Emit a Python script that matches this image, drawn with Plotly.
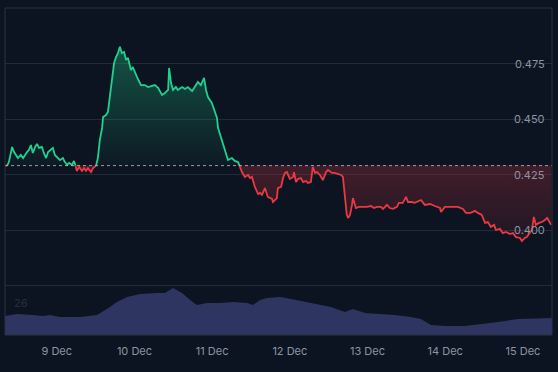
import pandas as pd
import plotly.graph_objects as go

START = pd.Timestamp("2024-12-08 08:00")
BASE = 0.4290

price_hours = [0, 0.6, 1.2, 2.2, 2.8, 3.4, 4.0, 4.9, 5.6, 6.8, 7.4, 8.0, 8.6, 9.3, 9.9, 10.5, 11.4, 12.0, 12.7, 13.3,
               14.2, 14.8, 15.4, 16.1, 17.0, 17.9, 18.5, 19.2, 19.8, 20.7, 21.3, 21.9, 22.2, 22.9, 23.8, 24.4, 25.0, 25.6, 26.6, 27.2,
               28.1, 28.7, 29.3, 30.0, 30.3, 31.2, 31.8, 32.4, 33.1, 33.7, 34.3, 34.9, 35.5, 36.1, 36.8, 37.4, 38.0, 38.9, 39.5, 40.2,
               40.8, 42.0, 43.2, 44.2, 45.4, 46.3, 47.3, 48.5, 49.4, 50.4, 50.7, 51.3, 51.9, 52.8, 53.4, 54.7, 55.6, 56.5, 57.8, 58.7,
               59.6, 60.5, 61.5, 62.1, 62.7, 63.9, 64.6, 65.5, 65.8, 66.7, 67.3, 68.3, 68.9, 70.1, 71.0, 72.0, 72.6, 73.2, 74.1, 75.1,
               75.7, 76.3, 77.2, 78.2, 78.8, 79.4, 80.3, 81.2, 82.5, 82.8, 84.0, 84.3, 85.3, 85.9, 86.5, 87.1, 88.0, 89.0, 89.3, 89.9,
               90.5, 91.4, 92.1, 93.0, 93.6, 94.5, 95.1, 95.8, 96.4, 97.3, 98.2, 99.2, 99.8, 101.0, 101.9, 102.9, 103.8, 104.4, 105.0, 105.6,
               106.0, 106.6, 107.2, 107.5, 108.4, 109.4, 110.6, 111.8, 113.1, 114.0, 114.9, 116.1, 116.8, 118.0, 118.9, 119.9, 121.1, 121.7, 122.9, 123.9,
               124.5, 125.7, 126.6, 128.5, 129.7, 131.3, 132.8, 134.4, 134.7, 135.9, 137.8, 139.9, 141.5, 142.4, 143.9, 145.2, 146.1, 147.3, 148.3, 149.2,
               150.1, 151.1, 151.7, 152.9, 153.8, 154.8, 156.0, 156.9, 157.9, 159.1, 159.7, 160.6, 161.2, 162.2, 162.8, 163.4, 164.0, 165.0, 165.9, 166.8,
               167.5, 168.4, 168.7]
price_values = [0.4290, 0.4288, 0.4306, 0.4374, 0.4351, 0.4338, 0.4324, 0.4338, 0.4324, 0.4351, 0.4361, 0.4383, 0.4347, 0.4374, 0.4388, 0.4370, 0.4374, 0.4347, 0.4324, 0.4351,
                0.4361, 0.4370, 0.4338, 0.4329, 0.4315, 0.4324, 0.4306, 0.4293, 0.4302, 0.4293, 0.4311, 0.4284, 0.4266, 0.4284, 0.4266, 0.4279, 0.4266, 0.4279, 0.4261, 0.4279,
                0.4288, 0.4324, 0.4406, 0.4460, 0.4509, 0.4518, 0.4532, 0.4599, 0.4689, 0.4752, 0.4779, 0.4797, 0.4825, 0.4797, 0.4802, 0.4766, 0.4775, 0.4721, 0.4734, 0.4707,
                0.4689, 0.4653, 0.4653, 0.4644, 0.4649, 0.4653, 0.4640, 0.4608, 0.4617, 0.4631, 0.4730, 0.4662, 0.4631, 0.4644, 0.4631, 0.4644, 0.4635, 0.4644, 0.4626, 0.4644,
                0.4667, 0.4653, 0.4685, 0.4631, 0.4599, 0.4572, 0.4541, 0.4505, 0.4460, 0.4419, 0.4392, 0.4338, 0.4315, 0.4324, 0.4311, 0.4306, 0.4284, 0.4261, 0.4239, 0.4248,
                0.4234, 0.4239, 0.4194, 0.4162, 0.4167, 0.4158, 0.4189, 0.4149, 0.4140, 0.4126, 0.4144, 0.4189, 0.4194, 0.4234, 0.4257, 0.4261, 0.4230, 0.4239, 0.4261, 0.4216,
                0.4230, 0.4234, 0.4216, 0.4221, 0.4212, 0.4216, 0.4284, 0.4257, 0.4261, 0.4248, 0.4225, 0.4261, 0.4270, 0.4257, 0.4257, 0.4252, 0.4248, 0.4239, 0.4149, 0.4068,
                0.4054, 0.4068, 0.4113, 0.4144, 0.4099, 0.4104, 0.4104, 0.4104, 0.4108, 0.4099, 0.4104, 0.4104, 0.4095, 0.4113, 0.4099, 0.4095, 0.4104, 0.4122, 0.4122, 0.4149,
                0.4126, 0.4126, 0.4122, 0.4135, 0.4113, 0.4117, 0.4108, 0.4099, 0.4081, 0.4104, 0.4104, 0.4104, 0.4095, 0.4077, 0.4077, 0.4086, 0.4077, 0.4068, 0.4032, 0.4036,
                0.4014, 0.4023, 0.4000, 0.4005, 0.3986, 0.3991, 0.3982, 0.3986, 0.3968, 0.3964, 0.3950, 0.3964, 0.3968, 0.3986, 0.4000, 0.4059, 0.4023, 0.4032, 0.4036, 0.4045,
                0.4054, 0.4032, 0.4023]

volume_hours = [0, 3.7, 8.6, 11.7, 13.9, 17.0, 23.2, 28.4, 31.5, 34.6, 37.7, 41.7, 47.0, 49.4, 51.9, 54.7, 57.2, 59.3, 62.4, 66.4,
                70.5, 74.8, 76.6, 78.8, 81.0, 85.0, 88.4, 94.5, 100.7, 105.0, 107.5, 111.2, 115.2, 120.5, 125.4, 128.5, 131.6, 135.9, 142.1, 148.3,
                152.3, 158.5, 164.6, 169.0]
volume_values = [15.2, 16.8, 16.0, 15.2, 16.0, 14.4, 14.4, 16.0, 20.8, 26.4, 30.4, 32.8, 33.6, 33.6, 37.6, 33.6, 28.0, 24.0, 25.6, 25.6,
                 26.4, 25.6, 24.0, 28.0, 29.6, 30.4, 28.8, 25.6, 22.4, 18.4, 20.8, 17.6, 16.8, 16.0, 14.4, 12.8, 8.0, 7.2, 7.2, 8.8,
                 10.4, 12.8, 13.6, 13.6]

grid_vals = [0.375, 0.400, 0.425, 0.450, 0.475]
label_vals = [0.400, 0.425, 0.450, 0.475]
label_text = ["0.400", "0.425", "0.450", "0.475"]
x_tick_dates = ["2024-12-09", "2024-12-10", "2024-12-11", "2024-12-12", "2024-12-13", "2024-12-14", "2024-12-15"]

BG = "#0d1421"
GREEN = "#1fd18d"
RED = "#ea3943"
GRID = "#222b38"
TXT = "#8b94a3"

# insert baseline crossings so the colour switches exactly at the baseline
hx, py = [], []
for i in range(len(price_values)):
    if i > 0:
        a = price_values[i - 1] - BASE
        b = price_values[i] - BASE
        if a * b < 0:
            f = a / (a - b)
            hx.append(price_hours[i - 1] + f * (price_hours[i] - price_hours[i - 1]))
            py.append(BASE)
    hx.append(price_hours[i])
    py.append(price_values[i])

tx = [START + pd.Timedelta(hours=h) for h in hx]
up_fill = [max(v, BASE) for v in py]
dn_fill = [min(v, BASE) for v in py]
up_line = [v if v >= BASE else None for v in py]
dn_line = [v if v <= BASE else None for v in py]
base_line = [BASE] * len(py)
vol_t = [START + pd.Timedelta(hours=h) for h in volume_hours]

fig = go.Figure()
fig.add_trace(go.Scatter(x=vol_t, y=volume_values, yaxis="y2", mode="lines",
                         line=dict(width=0, color="#2e3560"), fill="tozeroy",
                         fillcolor="#2e3560", hoverinfo="skip", showlegend=False))
fig.add_trace(go.Scatter(x=tx, y=base_line, mode="lines", line=dict(width=0), hoverinfo="skip", showlegend=False))
fig.add_trace(go.Scatter(x=tx, y=up_fill, mode="lines", line=dict(width=0), fill="tonexty",
                         fillgradient=dict(type="vertical",
                                           colorscale=[[0, "rgba(31,209,141,0.03)"], [1, "rgba(31,209,141,0.34)"]]),
                         hoverinfo="skip", showlegend=False))
fig.add_trace(go.Scatter(x=tx, y=base_line, mode="lines", line=dict(width=0), hoverinfo="skip", showlegend=False))
fig.add_trace(go.Scatter(x=tx, y=dn_fill, mode="lines", line=dict(width=0), fill="tonexty",
                         fillgradient=dict(type="vertical",
                                           colorscale=[[0, "rgba(234,57,67,0.08)"], [1, "rgba(234,57,67,0.24)"]]),
                         hoverinfo="skip", showlegend=False))
fig.add_trace(go.Scatter(x=tx, y=up_line, mode="lines", line=dict(color=GREEN, width=1.8),
                         connectgaps=False, showlegend=False))
fig.add_trace(go.Scatter(x=tx, y=dn_line, mode="lines", line=dict(color=RED, width=1.8),
                         connectgaps=False, showlegend=False))

fig.add_shape(type="line", xref="paper", yref="y", x0=0, x1=1, y0=BASE, y1=BASE,
              line=dict(color="rgba(200,206,215,0.75)", width=1, dash="dot"))
fig.add_shape(type="rect", xref="paper", yref="paper", x0=0, x1=1, y0=0, y1=1,
              line=dict(color="#2a3340", width=1), fillcolor="rgba(0,0,0,0)", layer="above")

for v, s in zip(label_vals, label_text):
    fig.add_annotation(xref="paper", yref="y", x=1, y=v, text=s, showarrow=False,
                       xanchor="right", yanchor="middle", xshift=-5,
                       font=dict(color=TXT, size=11))

fig.add_annotation(xref="paper", yref="y2", x=0.012, y=26, text="26", showarrow=False,
                   xanchor="left", yanchor="middle", font=dict(color="#272e3b", size=11))

fig.update_layout(
    width=558, height=372,
    margin=dict(l=5, r=6, t=8, b=37),
    paper_bgcolor=BG, plot_bgcolor=BG,
    font=dict(family="Inter, Roboto, sans-serif", color=TXT, size=11),
    showlegend=False,
    xaxis=dict(type="date", range=[START, START + pd.Timedelta(hours=169)],
               tickvals=x_tick_dates, tickformat="%-d %b", showgrid=False, zeroline=False,
               ticks="outside", ticklen=6, tickcolor=BG, showline=False,
               tickfont=dict(color=TXT, size=11)),
    yaxis=dict(range=[0.3527, 0.5000], side="right", tickvals=grid_vals, showticklabels=False,
               showgrid=True, gridcolor=GRID, gridwidth=1, zeroline=False, showline=False),
    yaxis2=dict(overlaying="y", range=[0, 261.6], visible=False, showgrid=False),
)

fig.write_html("out.html", config={"displayModeBar": False},
               post_script="document.body.style.margin='0';document.body.style.background='" + BG + "';")
